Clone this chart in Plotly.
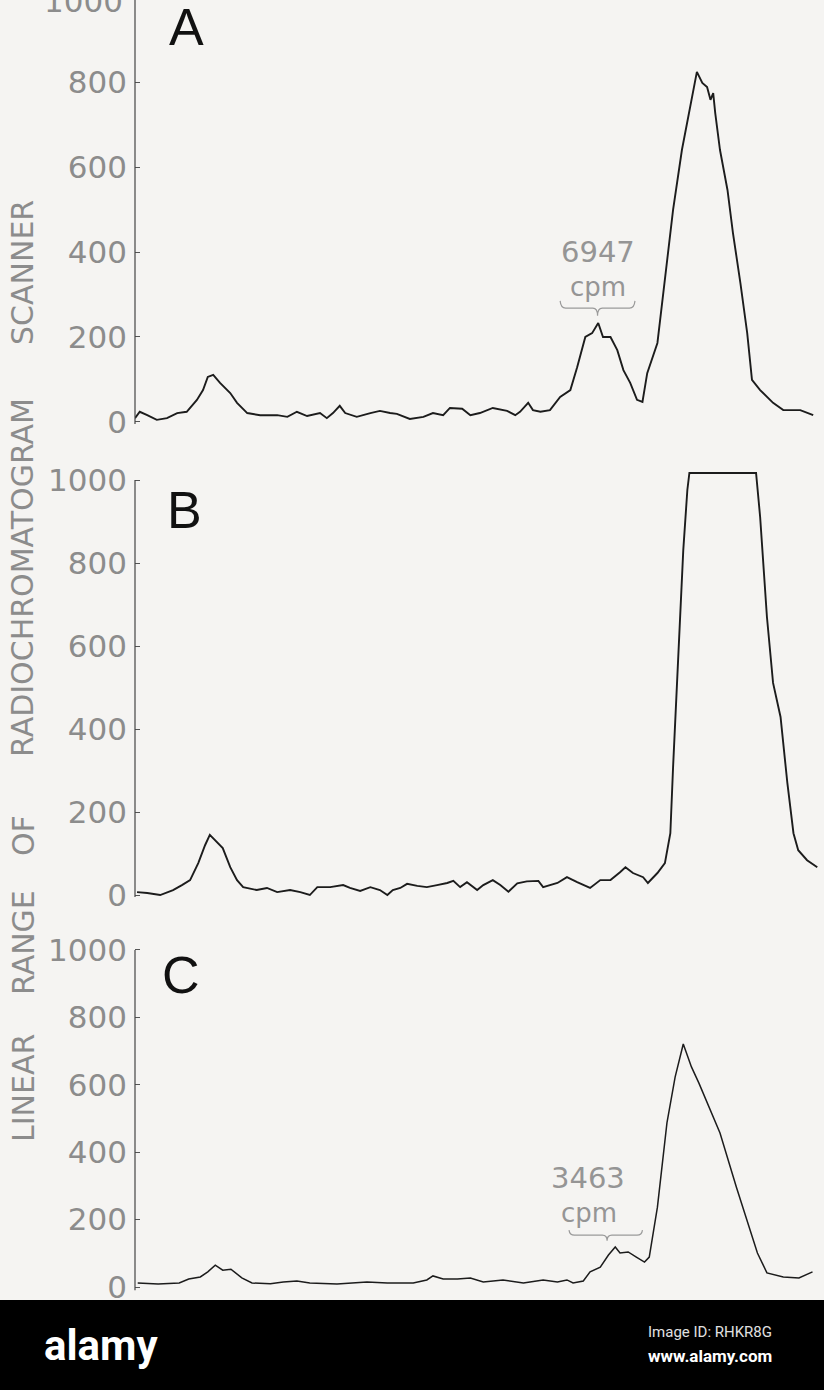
import plotly.graph_objects as go

# position along the chromatogram (arbitrary units, 0-100) and scanner counts
pos_a = [0, 0.7, 1.8, 3.2, 4.7, 6.2, 7.6, 9.1, 10.0, 10.7, 11.5, 12.5, 14.0, 15.0, 16.5, 18.4,
         20.9, 22.4, 23.8, 25.3, 27.2, 28.2, 29.1, 30.1, 30.9, 32.6, 34.6, 36.0, 37.5, 38.5,
         40.4, 42.4, 43.8, 45.3, 46.3, 48.1, 49.3, 50.7, 52.6, 54.7, 55.9, 56.6, 57.8, 58.5,
         59.6, 61.0, 62.5, 64.0, 65.0, 66.2, 67.2, 68.1, 68.8, 69.9, 70.9, 71.8, 72.8, 73.8,
         74.6, 75.3, 76.8, 78.2, 79.1, 80.4, 81.3, 82.1, 82.6, 83.4, 84.1, 84.6, 85.0, 85.3,
         86.0, 87.1, 87.9, 89.0, 90.0, 90.7, 91.9, 93.8, 95.3, 97.8, 99.7]
counts_a = [9, 24, 16, 5, 9, 21, 24, 52, 75, 106, 111, 92, 68, 45, 21, 16,
            16, 12, 24, 14, 21, 9, 21, 38, 21, 12, 21, 26, 21, 19,
            7, 12, 21, 16, 33, 31, 16, 21, 33, 26, 16, 24, 45, 28,
            24, 28, 59, 75, 129, 200, 209, 233, 200, 200, 169, 122, 92, 52,
            47, 115, 186, 374, 499, 640, 718, 781, 824, 798, 788, 758, 774, 727,
            640, 546, 445, 327, 209, 99, 75, 45, 28, 28, 16]

pos_b = [0.3, 1.8, 3.7, 5.6, 6.9, 8.1, 9.3, 10.3, 11.0, 12.1, 12.9, 14.0, 15.0, 15.9, 17.9,
         19.4, 20.9, 22.8, 24.3, 25.7, 26.8, 28.7, 30.6, 31.6, 33.1, 34.6, 36.0, 37.1, 37.9,
         39.0, 40.0, 41.5, 42.9, 44.4, 45.9, 46.8, 47.8, 48.8, 50.3, 51.2, 52.6, 53.7, 54.9,
         56.2, 57.6, 59.3, 60.0, 62.1, 63.5, 65.0, 66.9, 68.4, 69.9, 71.3, 72.1, 73.2, 74.7,
         75.4, 76.8, 77.9, 78.7, 79.1, 79.7, 80.1, 80.6, 81.2, 81.5, 91.3, 91.9, 92.9, 93.8,
         94.9, 95.9, 96.8, 97.5, 98.8, 100.3]
counts_b = [7, 5, 0, 12, 24, 36, 77, 120, 145, 125, 113, 67, 36, 19, 12,
            17, 7, 12, 7, 0, 19, 19, 24, 17, 10, 19, 12, 0, 12,
            17, 27, 22, 19, 24, 29, 34, 19, 31, 12, 24, 36, 24, 8,
            28, 33, 34, 19, 29, 43, 31, 17, 36, 36, 55, 67, 53, 43,
            29, 53, 77, 149, 308, 511, 670, 831, 976, 1017, 1017, 911, 670, 511,
            429, 270, 149, 108, 84, 67]

pos_c = [0.4, 3.4, 6.5, 7.9, 9.6, 10.7, 11.8, 12.9, 14.1, 15.7, 17.2, 19.9, 21.8, 23.8,
         25.7, 29.7, 34.1, 37.1, 40.9, 42.9, 43.8, 45.3, 47.4, 49.3, 51.2, 54.1, 57.1,
         60.0, 62.1, 63.5, 64.4, 65.9, 66.9, 68.4, 69.6, 70.6, 71.3, 72.5, 73.7, 74.9,
         75.6, 76.8, 78.2, 79.4, 80.6, 81.8, 82.9, 84.4, 86.0, 88.4, 89.9, 91.5, 92.9,
         95.3, 97.6, 99.6]
counts_c = [12, 9, 12, 24, 30, 45, 65, 50, 53, 27, 12, 10, 15, 18,
            12, 9, 15, 12, 12, 21, 33, 24, 24, 27, 15, 21, 12,
            21, 15, 21, 12, 18, 45, 59, 95, 119, 101, 104, 89, 74,
            89, 237, 487, 623, 721, 653, 605, 534, 457, 297, 199, 101, 42,
            30, 27, 45]

y_ticks = [0, 200, 400, 600, 800, 1000]
panel_letters = ['A', 'B', 'C']
title_words = ['SCANNER', 'RADIOCHROMATOGRAM', 'OF', 'RANGE', 'LINEAR']
title_word_y = [273, 578, 836, 943, 1088]  # pixel rows of word centres

W, H = 824, 1390
GREY = '#8c8c8c'
BG = '#f5f4f2'


def py(p):
    return 1 - p / H


def label(text, x, y, size, color=GREY, family='DejaVu Sans', **kw):
    d = dict(text=text, x=x, y=y, xref='paper', yref='paper', showarrow=False,
             xanchor='center', yanchor='middle', font=dict(family=family, size=size, color=color))
    d.update(kw)
    return d


fig = go.Figure()
for i, (xs, ys, w) in enumerate([(pos_a, counts_a, 1.9), (pos_b, counts_b, 1.9), (pos_c, counts_c, 1.5)]):
    sfx = '' if i == 0 else str(i + 1)
    fig.add_trace(go.Scatter(x=xs, y=ys, mode='lines', line=dict(color='#1c1c1c', width=w),
                             xaxis='x' + sfx, yaxis='y' + sfx, showlegend=False))

# panel geometry: (y range, pixel bottom, pixel top)
panels = [([-5, 993], 424.1, 0), ([-5, 1035], 897.1, 465.5), ([-10, 1010], 1290.4, 946.6)]
axis_top = [993, 1000, 1000]
layout = dict(width=W, height=H, margin=dict(l=0, r=0, t=0, b=0, autoexpand=False),
              paper_bgcolor=BG, plot_bgcolor=BG, showlegend=False)
shapes = []
for i, (rng, pb, pt) in enumerate(panels):
    sfx = '' if i == 0 else str(i + 1)
    layout['xaxis' + sfx] = dict(domain=[135 / W, 820 / W], range=[0, 100.7], anchor='y' + sfx,
                                 visible=False, showgrid=False, zeroline=False, automargin=False)
    layout['yaxis' + sfx] = dict(domain=[py(pb), py(pt)], range=rng, anchor='x' + sfx,
                                 tickvals=y_ticks, ticks='inside', ticklen=5, tickcolor='#555',
                                 tickwidth=1, ticklabelstandoff=7, automargin=False,
                                 tickfont=dict(family='DejaVu Sans', size=31, color=GREY),
                                 showgrid=False, zeroline=False, showline=False)
    shapes.append(dict(type='line', xref='paper', yref='y' + sfx, x0=135 / W, x1=135 / W,
                       y0=rng[0], y1=axis_top[i], line=dict(color='#444', width=1.2)))

# cpm braces
shapes.append(dict(type='path', xref='x', yref='y', line=dict(color='#9a9a9a', width=1.2),
                   path='M 62.5,285 Q 62.6,268 63.3,268 L 67.3,268 Q 68,268 68,250 '
                        'Q 68,268 68.7,268 L 72.7,268 Q 73.4,268 73.5,285'))
shapes.append(dict(type='path', xref='x3', yref='y3', line=dict(color='#9a9a9a', width=1.2),
                   path='M 63.8,169 Q 63.9,154 64.6,154 L 68.7,154 Q 69.4,154 69.4,137 '
                        'Q 69.4,154 70.1,154 L 73.8,154 Q 74.5,154 74.6,169'))

# black footer band
shapes.append(dict(type='rect', xref='paper', yref='paper', x0=0, x1=1, y0=0, y1=py(1300),
                   fillcolor='black', line=dict(width=0), layer='above'))
layout['shapes'] = shapes

ann = []
for letter, (lx, ly) in zip(panel_letters, [(186, 27), (184, 510), (181, 975)]):
    ann.append(label(letter, lx / W, py(ly), 52, color='#111', family='Liberation Sans'))
for word, wy in zip(title_words, title_word_y):
    ann.append(label(word, 23 / W, py(wy), 30, textangle=-90))
# clipped 1000 label at the top of panel A
ann.append(label('1000', 125 / W, py(1), 31, xanchor='right'))
ann += [
    dict(text='6947', x=68.1, y=400, xref='x', yref='y', showarrow=False,
         font=dict(family='DejaVu Sans', size=29, color='#959595')),
    dict(text='cpm', x=68.1, y=318, xref='x', yref='y', showarrow=False,
         font=dict(family='DejaVu Sans', size=26, color='#959595')),
    dict(text='3463', x=66.6, y=323, xref='x3', yref='y3', showarrow=False,
         font=dict(family='DejaVu Sans', size=29, color='#959595')),
    dict(text='cpm', x=66.7, y=220, xref='x3', yref='y3', showarrow=False,
         font=dict(family='DejaVu Sans', size=26, color='#959595')),
    label('<b>alamy</b>', 101 / W, py(1345), 42, color='white',
          family='Liberation Sans Narrow, Roboto'),
    label('Image ID: RHKR8G', 774 / W, py(1332), 15, color='#e0e0e0',
          family='Liberation Sans Narrow, Roboto', xanchor='right'),
    label('<b>www.alamy.com</b>', 774 / W, py(1356), 17, color='white',
          family='Liberation Sans Narrow, Roboto', xanchor='right'),
]
layout['annotations'] = ann
fig.update_layout(**layout)
fig.write_html('out.html', config={'displayModeBar': False},
               post_script="document.body.style.margin='0';")
